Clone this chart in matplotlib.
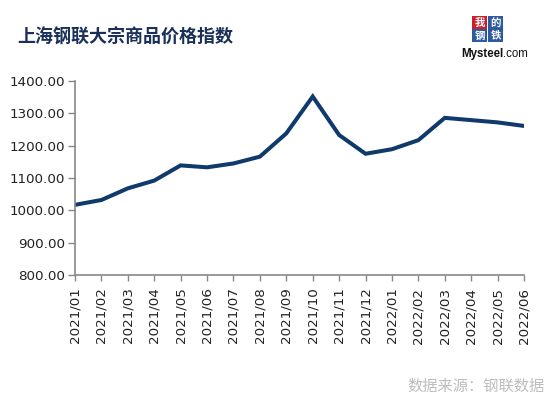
import matplotlib.pyplot as plt
from matplotlib.patches import Rectangle

plt.rcParams['font.family'] = ['DejaVu Sans', 'Noto Sans CJK SC']

months = ['2021/01', '2021/02', '2021/03', '2021/04', '2021/05', '2021/06',
          '2021/07', '2021/08', '2021/09', '2021/10', '2021/11', '2021/12',
          '2022/01', '2022/02', '2022/03', '2022/04', '2022/05', '2022/06']
index_values = [1017, 1032, 1068, 1092, 1139, 1133, 1145, 1166, 1238,
                1352, 1233, 1175, 1189, 1217, 1286, 1279, 1272, 1261]
y_ticks = [800, 900, 1000, 1100, 1200, 1300, 1400]

W, H = 548, 397
fig = plt.figure(figsize=(W / 100, H / 100), dpi=100)
ax = fig.add_axes([75 / W, 1 - 275 / H, (524 - 75) / W, (275 - 81) / H])

x = list(range(len(months)))
ax.plot(x, index_values, color='#0f3a6b', linewidth=2.9, solid_joinstyle='miter')

ax.set_xlim(0, len(months) - 1)
ax.set_ylim(800, 1400)
ax.set_yticks(y_ticks)
ax.set_yticklabels([f'{v:.2f}' for v in y_ticks], fontsize=9.7, color='#222222')
ax.set_xticks(x)
ax.set_xticklabels(months, rotation=90, fontsize=9.7, color='#222222')

for s in ['top', 'right']:
    ax.spines[s].set_visible(False)
for s in ['left', 'bottom']:
    ax.spines[s].set_color('#888888')
    ax.spines[s].set_linewidth(1.2)
ax.tick_params(axis='y', color='#888888', length=5, width=1, pad=2)
ax.tick_params(axis='x', color='#888888', length=4, width=1, pad=5)
ax.spines['bottom'].set_zorder(0)

# title
fig.text(17 / W, 1 - 37 / H, '上海钢联大宗商品价格指数', fontsize=13, fontweight='bold',
         color='#1a3058', family=['Noto Sans CJK SC'], va='center', ha='left')

# logo
cells = [(472, 16, '#c8202a', '我'), (488, 16, '#2c5aa0', '的'),
         (472, 29, '#2c5aa0', '钢'), (488, 29, '#2c5aa0', '铁')]
for cx, cy, col, ch in cells:
    fig.patches.append(Rectangle((cx / W, 1 - (cy + 13) / H), 15 / W, 13 / H,
                                 transform=fig.transFigure, facecolor=col,
                                 edgecolor='none'))
    fig.text((cx + 7.5) / W, 1 - (cy + 6.5) / H, ch, fontsize=7.5, color='white',
             family=['Noto Sans CJK SC'], ha='center', va='center', fontweight='bold')
fig.text(503 / W, 1 - 54 / H, 'Mysteel', fontsize=8.3, fontweight='bold', color='#111111',
         family=['Liberation Sans'], ha='right', va='center')
fig.text(503 / W, 1 - 54 / H, '.com', fontsize=8.3, color='#111111',
         family=['Liberation Sans'], ha='left', va='center')

# source
fig.text(545 / W, 1 - 386 / H, '数据来源：钢联数据', fontsize=11, color='#bdbdbd',
         family=['Noto Sans CJK SC'], ha='right', va='center')

fig.savefig('out.png', dpi=100)
